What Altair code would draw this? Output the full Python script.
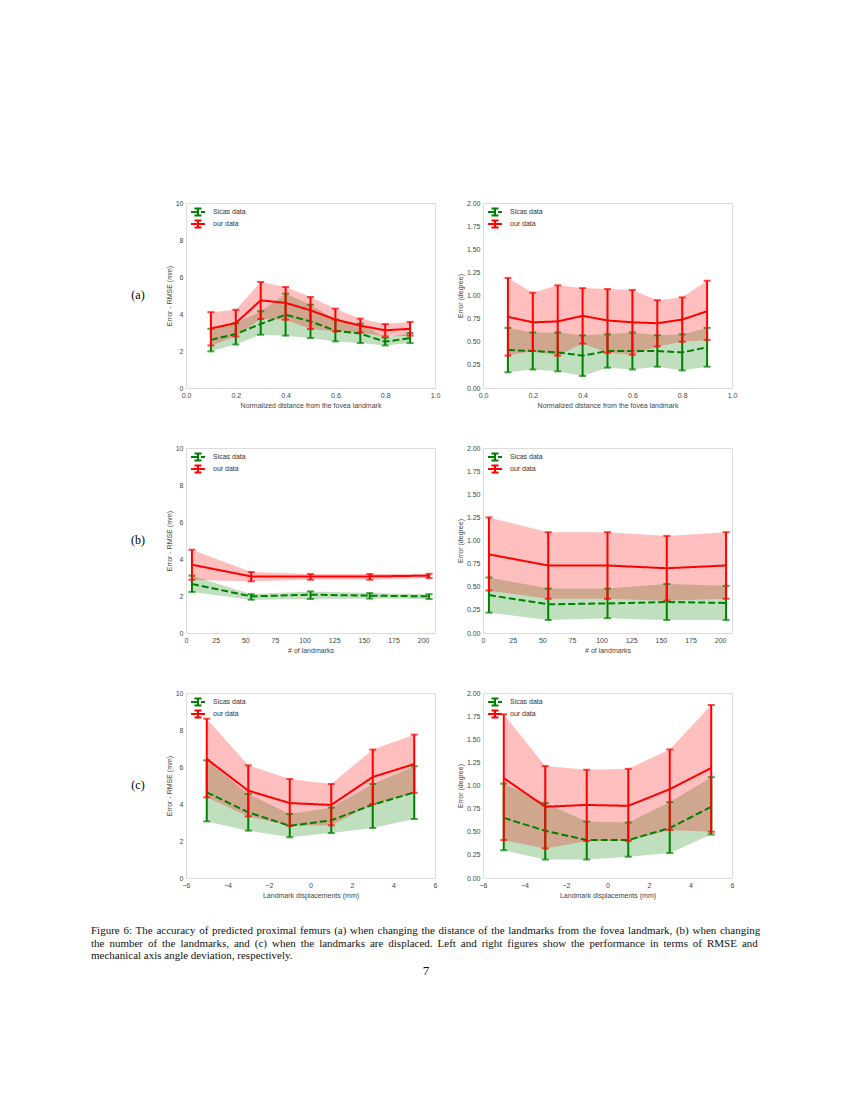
import altair as alt
import pandas as pd

SERIES = ["Sicas data", "our data"]
GREEN = "#008000"
RED = "#ff0000"

# ---- (a) distance from fovea landmark ----
A_X = [0.1, 0.2, 0.3, 0.4, 0.5, 0.6, 0.7, 0.8, 0.9]
A_RMSE_SICAS = [2.6, 2.92, 3.46, 3.96, 3.6, 3.1, 2.94, 2.5, 2.7]
A_RMSE_SICAS_LO = [1.98, 2.35, 2.88, 2.83, 2.7, 2.52, 2.43, 2.3, 2.43]
A_RMSE_SICAS_HI = [3.2, 3.5, 4.15, 5.1, 4.5, 3.7, 3.48, 2.72, 2.97]
A_RMSE_OURS = [3.22, 3.51, 4.74, 4.6, 4.2, 3.7, 3.37, 3.12, 3.2]
A_RMSE_OURS_LO = [2.3, 2.79, 3.73, 3.69, 3.19, 3.06, 3.0, 2.79, 2.83]
A_RMSE_OURS_HI = [4.1, 4.23, 5.73, 5.46, 4.92, 4.29, 3.75, 3.46, 3.57]
A_DEG_SICAS = [0.41, 0.40, 0.385, 0.35, 0.40, 0.40, 0.40, 0.385, 0.44]
A_DEG_SICAS_LO = [0.17, 0.2, 0.18, 0.13, 0.22, 0.2, 0.23, 0.19, 0.23]
A_DEG_SICAS_HI = [0.65, 0.6, 0.6, 0.57, 0.58, 0.6, 0.57, 0.58, 0.65]
A_DEG_OURS = [0.77, 0.71, 0.72, 0.78, 0.73, 0.71, 0.70, 0.74, 0.83]
A_DEG_OURS_LO = [0.35, 0.40, 0.35, 0.48, 0.38, 0.36, 0.45, 0.50, 0.52]
A_DEG_OURS_HI = [1.19, 1.03, 1.11, 1.08, 1.07, 1.06, 0.95, 0.98, 1.16]

# ---- (b) number of landmarks ----
B_X = [5, 55, 105, 155, 205]
B_RMSE_SICAS = [2.65, 1.98, 2.07, 2.02, 1.98]
B_RMSE_SICAS_LO = [2.22, 1.8, 1.84, 1.86, 1.84]
B_RMSE_SICAS_HI = [3.1, 2.1, 2.25, 2.16, 2.1]
B_RMSE_OURS = [3.69, 3.06, 3.06, 3.06, 3.1]
B_RMSE_OURS_LO = [2.88, 2.79, 2.88, 2.88, 2.97]
B_RMSE_OURS_HI = [4.5, 3.3, 3.19, 3.19, 3.2]
B_DEG_SICAS = [0.41, 0.31, 0.32, 0.335, 0.325]
B_DEG_SICAS_LO = [0.22, 0.14, 0.16, 0.14, 0.14]
B_DEG_SICAS_HI = [0.6, 0.48, 0.48, 0.53, 0.51]
B_DEG_OURS = [0.85, 0.73, 0.73, 0.70, 0.73]
B_DEG_OURS_LO = [0.46, 0.37, 0.37, 0.35, 0.37]
B_DEG_OURS_HI = [1.25, 1.09, 1.09, 1.05, 1.09]

# ---- (c) landmark displacements ----
C_X = [-5, -3, -1, 1, 3, 5]
C_RMSE_SICAS = [4.63, 3.55, 2.82, 3.12, 3.96, 4.63]
C_RMSE_SICAS_LO = [3.06, 2.56, 2.2, 2.43, 2.7, 3.19]
C_RMSE_SICAS_HI = [6.36, 4.54, 3.46, 3.8, 5.08, 6.04]
C_RMSE_OURS = [6.43, 4.72, 4.05, 3.95, 5.46, 6.16]
C_RMSE_OURS_LO = [4.36, 3.33, 2.82, 2.85, 4.0, 4.6]
C_RMSE_OURS_HI = [8.61, 6.09, 5.35, 5.08, 6.94, 7.75]
C_DEG_SICAS = [0.65, 0.51, 0.41, 0.41, 0.54, 0.77]
C_DEG_SICAS_LO = [0.30, 0.20, 0.20, 0.23, 0.27, 0.47]
C_DEG_SICAS_HI = [1.02, 0.81, 0.61, 0.6, 0.82, 1.09]
C_DEG_OURS = [1.08, 0.77, 0.79, 0.78, 0.96, 1.19]
C_DEG_OURS_LO = [0.41, 0.32, 0.40, 0.40, 0.52, 0.50]
C_DEG_OURS_HI = [1.77, 1.21, 1.17, 1.18, 1.39, 1.87]

# ---- tick labels / texts ----
A_XTICKS = [0.0, 0.2, 0.4, 0.6, 0.8, 1.0]
B_XTICKS = [0, 25, 50, 75, 100, 125, 150, 175, 200]
C_XTICKS = [-6, -4, -2, 0, 2, 4, 6]
RMSE_YTICKS = [0, 2, 4, 6, 8, 10]
DEG_YTICKS = [0.0, 0.25, 0.5, 0.75, 1.0, 1.25, 1.5, 1.75, 2.0]
ROW_LABELS = ["(a)", "(b)", "(c)"]
CAPTION_LINES = [
    "Figure 6: The accuracy of predicted proximal femurs (a) when changing the distance of the landmarks from the fovea landmark, (b) when changing",
    "the number of the landmarks, and (c) when the landmarks are displaced. Left and right figures show the performance in terms of RMSE and",
    "mechanical axis angle deviation, respectively.",
]
PAGE_NUMBER = "7"

# word gaps used to justify the first two caption lines (unicode spaces)
CAPTION_GAPS = ["\u2004", "\u2005\u2009", " "]

W, H = 249, 185
# errorbar-like legend glyph (drawn ~14px wide at symbolSize 36)
LEG_PATH = "M-2.33,0H2.33M0,-1.17V1.17M-1.17,-1.17H1.17M-1.17,1.17H1.17"


def frame(x, mean, lo, hi, name):
    return pd.DataFrame({"x": x, "mean": mean, "lo": lo, "hi": hi, "series": name})


def panel(x, s, o, xdom, xvals, xfmt, xtitle, ydom, yvals, yfmt, ytitle, label=None, caption=False):
    sd = frame(x, *s, SERIES[0])
    od = frame(x, *o, SERIES[1])
    xenc = alt.X("x:Q", scale=alt.Scale(domain=xdom, nice=False, zero=False),
                 axis=alt.Axis(values=xvals, format=xfmt, title=xtitle))
    yscale = alt.Scale(domain=ydom, nice=False, zero=False)
    yaxis = alt.Axis(values=yvals, format=yfmt, title=ytitle)
    leg = alt.Legend(title=None, orient="none", legendX=8, legendY=5,
                     symbolType=LEG_PATH, symbolSize=36, rowPadding=-8, labelOffset=11)
    color = alt.Color("series:N", scale=alt.Scale(domain=SERIES, range=[GREEN, RED]), legend=leg)
    dash = alt.StrokeDash("series:N", scale=alt.Scale(domain=SERIES, range=[[7, 3], [1, 0]]), legend=leg)

    layers = []
    for d, c in ((sd, GREEN), (od, RED)):
        layers.append(alt.Chart(d).mark_area(color=c, opacity=0.25).encode(
            x=xenc, y=alt.Y("lo:Q", scale=yscale, axis=yaxis), y2="hi:Q"))
    for d, c in ((sd, GREEN), (od, RED)):
        layers.append(alt.Chart(d).mark_rule(color=c, strokeWidth=2).encode(
            x=xenc, y=alt.Y("lo:Q", scale=yscale, axis=yaxis), y2="hi:Q"))
        layers.append(alt.Chart(d).transform_fold(["lo", "hi"], as_=["k", "v"]).mark_tick(
            orient="horizontal", size=7, thickness=2, color=c).encode(
            x=xenc, y=alt.Y("v:Q", scale=yscale, axis=yaxis)))
        layers.append(alt.Chart(d).mark_line(strokeWidth=2).encode(
            x=xenc, y=alt.Y("mean:Q", scale=yscale, axis=yaxis), color=color, strokeDash=dash))
    if label is not None:
        layers.append(alt.Chart(pd.DataFrame({"t": [label]})).mark_text(
            font="Liberation Serif", fontSize=12, align="center", baseline="middle", color="#000").encode(
            x=alt.value(-48), y=alt.value(92), text="t:N"))
    if caption:
        cap = dict(font="Liberation Serif", fontSize=11, baseline="middle", color="#111", align="left")
        for i, (line, gap) in enumerate(zip(CAPTION_LINES, CAPTION_GAPS)):
            txt = gap.join(line.split(" "))
            layers.append(alt.Chart(pd.DataFrame({"t": [txt]})).mark_text(**cap).encode(
                x=alt.value(-95), y=alt.value(238 + 12.5 * i), text="t:N"))
        layers.append(alt.Chart(pd.DataFrame({"t": [PAGE_NUMBER]})).mark_text(
            align="center", font="Liberation Serif", fontSize=13, baseline="middle", color="#111").encode(
            x=alt.value(240), y=alt.value(278), text="t:N"))
    return alt.layer(*layers).properties(width=W, height=H)


RM = ([0, 10], RMSE_YTICKS, "d", "Error - RMSE (mm)")
DG = ([0, 2], DEG_YTICKS, ".2f", "Error (degree)")
AX = ([0, 1], A_XTICKS, ".1f", "Normalized distance from the fovea landmark")
BX = ([0, 210], B_XTICKS, "d", "# of landmarks")
CX = ([-6, 6], C_XTICKS, "d", "Landmark displacements (mm)")

pa1 = panel(A_X, (A_RMSE_SICAS, A_RMSE_SICAS_LO, A_RMSE_SICAS_HI), (A_RMSE_OURS, A_RMSE_OURS_LO, A_RMSE_OURS_HI), *AX, *RM, label=ROW_LABELS[0])
pa2 = panel(A_X, (A_DEG_SICAS, A_DEG_SICAS_LO, A_DEG_SICAS_HI), (A_DEG_OURS, A_DEG_OURS_LO, A_DEG_OURS_HI), *AX, *DG)
pb1 = panel(B_X, (B_RMSE_SICAS, B_RMSE_SICAS_LO, B_RMSE_SICAS_HI), (B_RMSE_OURS, B_RMSE_OURS_LO, B_RMSE_OURS_HI), *BX, *RM, label=ROW_LABELS[1])
pb2 = panel(B_X, (B_DEG_SICAS, B_DEG_SICAS_LO, B_DEG_SICAS_HI), (B_DEG_OURS, B_DEG_OURS_LO, B_DEG_OURS_HI), *BX, *DG)
pc1 = panel(C_X, (C_RMSE_SICAS, C_RMSE_SICAS_LO, C_RMSE_SICAS_HI), (C_RMSE_OURS, C_RMSE_OURS_LO, C_RMSE_OURS_HI), *CX, *RM, label=ROW_LABELS[2], caption=True)
pc2 = panel(C_X, (C_DEG_SICAS, C_DEG_SICAS_LO, C_DEG_SICAS_HI), (C_DEG_OURS, C_DEG_OURS_LO, C_DEG_OURS_HI), *CX, *DG)

chart = alt.concat(pa1, pa2, pb1, pb2, pc1, pc2, columns=2,
                   spacing={"row": 60, "column": 48}, bounds="flush").resolve_scale(
    color="independent", strokeDash="independent"
).resolve_legend(color="independent", strokeDash="independent").properties(
    padding={"left": 82, "top": 190, "right": 5, "bottom": 5}
).configure_view(stroke="#dcdcdc", strokeWidth=1).configure_axis(
    labelFont="Liberation Sans", labelFontSize=7, labelColor="#444",
    titleFont="Liberation Sans", titleFontSize=7, titleColor="#444", titleFontWeight="normal",
    ticks=False, domain=False, grid=False, labelPadding=3, titlePadding=3,
    labelFlush=False, labelOverlap=False
).configure_legend(
    labelFont="Liberation Sans", labelFontSize=7, labelColor="#333",
    symbolStrokeWidth=2, symbolSize=36, rowPadding=-8, labelOffset=11, padding=0
)

chart.save("out.html", embed_options={"renderer": "svg", "actions": False})
